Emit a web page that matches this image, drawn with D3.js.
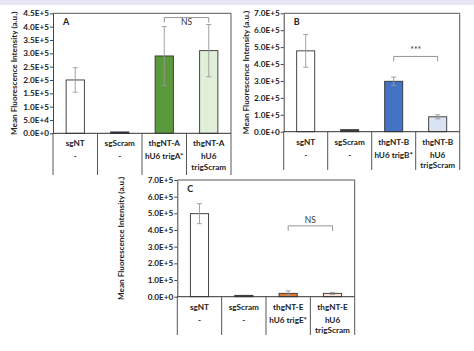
<!DOCTYPE html>
<html>
<head>
<meta charset="utf-8">
<script src="https://cdn.jsdelivr.net/npm/d3@7"></script>
<style>
  body { margin: 0; background: #fff; }
  text { font-family: Lato, "Open Sans", sans-serif; }
</style>
</head>
<body>
<div id="chart"></div>
<script>
// Categories (table rows under each panel)
const row1A = ["sgNT", "sgScram", "thgNT-A", "thgNT-A"];
const row1B = ["sgNT", "sgScram", "thgNT-B", "thgNT-B"];
const row1C = ["sgNT", "sgScram", "thgNT-E", "thgNT-E"];
const row2A = [["-"], ["-"], ["hU6 trigA*"], ["hU6", "trigScram"]];
const row2B = [["-"], ["-"], ["hU6 trigB*"], ["hU6", "trigScram"]];
const row2C = [["-"], ["-"], ["hU6 trigE*"], ["hU6", "trigScram"]];

// Values (mean fluorescence intensity) and error
const valuesA = [200000, 5000, 290000, 310000];
const errorsA = [46000, 0, 110000, 98000];
const valuesB = [478000, 12000, 298000, 88000];
const errorsB = [97000, 0, 25000, 12000];
const valuesC = [498000, 8000, 20000, 20000];
const errorsC = [60000, 0, 15000, 6000];

// Tick values
const ticksA = [0, 50000, 100000, 150000, 200000, 250000, 300000, 350000, 400000, 450000];
const ticksBC = [0, 100000, 200000, 300000, 400000, 500000, 600000, 700000];

// Significance brackets
const sigA = {from: 2, to: 3, label: "NS"};
const sigB = {from: 2, to: 3, label: "***"};
const sigC = {from: 2, to: 3, label: "NS"};

const colorsA = ["#ffffff", "#1f2a4d", "#5b9a3c", "#e2efd8"];
const colorsB = ["#ffffff", "#3a3a4a", "#4472c4", "#dae3f3"];
const colorsC = ["#ffffff", "#3a3a3a", "#e07a30", "#fbe4d5"];

const FS = 8.2;

const svg = d3.select("#chart").append("svg")
  .attr("width", 474)
  .attr("height", 351);

svg.append("rect").attr("x", 0).attr("y", 0).attr("width", 474).attr("height", 5)
  .attr("fill", "#e6e7f3");

function fmtExp(v) {
  if (v === 0) return "0.0E+0";
  let e = Math.floor(Math.log10(v));
  let m = v / Math.pow(10, e);
  return m.toFixed(1) + "E+" + e;
}

function drawPanel(p) {
  let g = svg.append("g");
  let x = d3.scaleBand().domain(d3.range(p.values.length))
    .range([p.left, p.right]);
  let y = d3.scaleLinear().domain([0, p.max]).range([p.zero, p.top]);
  let bw = x.bandwidth() * 0.41;

  // frame
  g.append("path")
    .attr("d", `M${p.left},${p.top}H${p.right}V${p.zero}`)
    .attr("fill", "none").attr("stroke", "#444").attr("stroke-width", 0.9);

  // y axis
  let ax = g.append("g")
    .attr("transform", `translate(${p.left},0)`)
    .call(d3.axisLeft(y).tickValues(p.ticks).tickFormat(fmtExp).tickSize(3).tickSizeOuter(0));
  ax.select(".domain").attr("stroke", "#444");
  ax.selectAll(".tick line").attr("stroke", "#444");
  ax.selectAll(".tick text")
    .attr("font-family", "Lato, sans-serif")
    .attr("font-size", FS).attr("font-weight", "bold").attr("fill", "#222")
    .attr("x", -4);

  // y label
  g.append("text")
    .attr("transform", `translate(${p.labelX},${(p.top + p.zero) / 2}) rotate(-90)`)
    .attr("text-anchor", "middle")
    .attr("font-size", FS).attr("font-weight", "bold").attr("fill", "#222")
    .text("Mean Fluorescence Intensity (a.u.)");

  // panel letter
  g.append("text")
    .attr("x", p.left + 10).attr("y", p.top + 12)
    .attr("font-size", 9).attr("font-weight", "bold").attr("fill", "#222")
    .text(p.letter);

  // bars
  g.selectAll(".bar").data(p.values).enter().append("rect")
    .attr("x", (d, i) => x(i) + (x.bandwidth() - bw) / 2)
    .attr("y", d => y(d))
    .attr("width", bw)
    .attr("height", d => y(0) - y(d))
    .attr("fill", (d, i) => p.colors[i])
    .attr("stroke", "#333").attr("stroke-width", 0.9);

  // error bars
  p.values.forEach((v, i) => {
    let e = p.errors[i];
    if (!e) return;
    let cx = x(i) + x.bandwidth() / 2;
    g.append("path")
      .attr("d", `M${cx},${y(v - e)}V${y(v + e)}M${cx - 2.5},${y(v - e)}H${cx + 2.5}M${cx - 2.5},${y(v + e)}H${cx + 2.5}`)
      .attr("fill", "none").attr("stroke", "#999").attr("stroke-width", 0.9);
  });

  // table lines
  g.append("line")
    .attr("x1", p.left).attr("x2", p.right)
    .attr("y1", p.zero).attr("y2", p.zero)
    .attr("stroke", "#333").attr("stroke-width", 1);
  d3.range(p.values.length + 1).forEach(i => {
    let xx = i < p.values.length ? x(i) : p.right;
    g.append("line")
      .attr("x1", xx).attr("x2", xx)
      .attr("y1", p.zero).attr("y2", p.bottom)
      .attr("stroke", "#444").attr("stroke-width", 0.9);
  });

  // table text
  p.row1.forEach((t, i) => {
    let cx = x(i) + x.bandwidth() / 2;
    g.append("text").attr("x", cx).attr("y", p.zero + 13)
      .attr("text-anchor", "middle").attr("font-size", FS).attr("font-weight", "bold")
      .attr("fill", "#222").text(t);
    p.row2[i].forEach((s, j) => {
      g.append("text").attr("x", cx).attr("y", p.zero + 26 + j * 10.5)
        .attr("text-anchor", "middle").attr("font-size", FS).attr("font-weight", "bold")
        .attr("fill", "#222").text(s);
    });
  });

  // significance bracket
  let s = p.sig;
  let x1 = x(s.from) + x.bandwidth() / 2;
  let x2 = x(s.to) + x.bandwidth() / 2;
  let by = y(s.level);
  g.append("path")
    .attr("d", `M${x1},${by + 5}V${by}H${x2}V${by + 5}`)
    .attr("fill", "none").attr("stroke", "#888").attr("stroke-width", 0.9);
  g.append("text")
    .attr("x", (x1 + x2) / 2).attr("y", by + s.dy)
    .attr("text-anchor", "middle").attr("font-size", 8.5)
    .attr("fill", "#333").text(s.label);
}

drawPanel({
  letter: "A", values: valuesA, errors: errorsA, colors: colorsA,
  row1: row1A, row2: row2A, ticks: ticksA, max: 450000,
  left: 53, right: 231, top: 13.3, zero: 133.3, bottom: 175, labelX: 17,
  sig: Object.assign({level: 434000, dy: 7.5}, sigA)
});

drawPanel({
  letter: "B", values: valuesB, errors: errorsB, colors: colorsB,
  row1: row1B, row2: row2B, ticks: ticksBC, max: 700000,
  left: 283.7, right: 459.7, top: 13.3, zero: 131.7, bottom: 170, labelX: 249,
  sig: Object.assign({level: 445000, dy: -3}, sigB)
});

drawPanel({
  letter: "C", values: valuesC, errors: errorsC, colors: colorsC,
  row1: row1C, row2: row2C, ticks: ticksBC, max: 700000,
  left: 177.3, right: 354.7, top: 180, zero: 296.7, bottom: 335, labelX: 124,
  sig: Object.assign({level: 425000, dy: -3}, sigC)
});
</script>
</body>
</html>
